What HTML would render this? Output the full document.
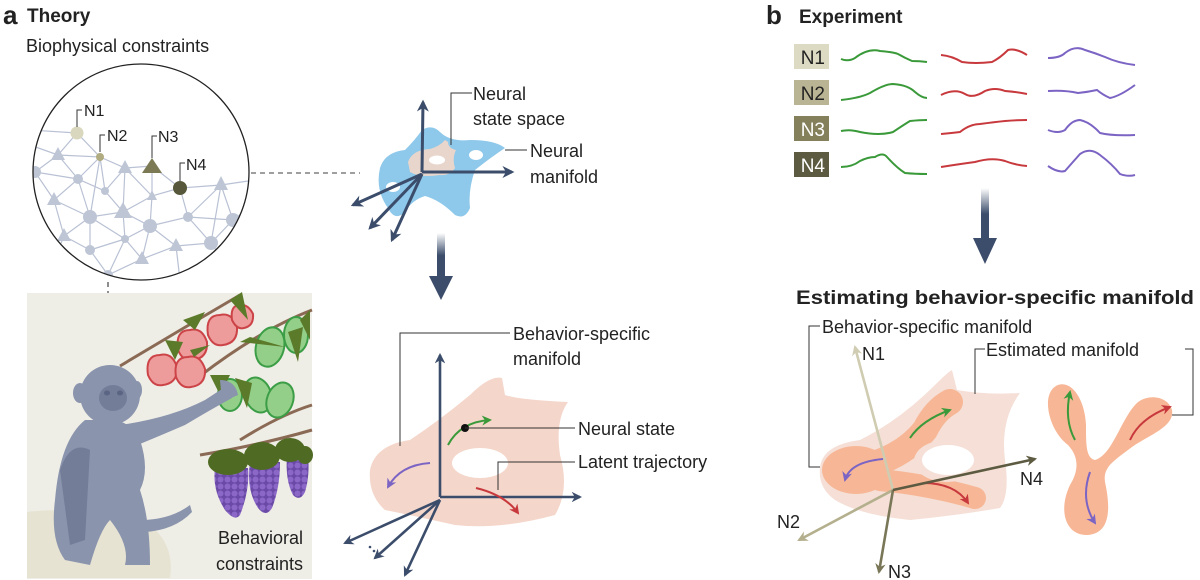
<!DOCTYPE html>
<html><head><meta charset="utf-8"><style>
html,body{margin:0;padding:0;background:#fff;}
svg{display:block;}
text{font-family:"Liberation Sans",sans-serif;fill:#222;}
</style></head><body>
<svg width="1200" height="580" viewBox="0 0 1200 580" xmlns="http://www.w3.org/2000/svg">
<defs>
<marker id="ab" viewBox="0 0 10 10" refX="8" refY="5" markerWidth="4" markerHeight="4" orient="auto"><path d="M0,0 L10,5 L0,10 L3,5Z" fill="#3b4d6b"/></marker>
<marker id="ag" viewBox="0 0 10 10" refX="8" refY="5" markerWidth="5" markerHeight="5" orient="auto"><path d="M0,0 L10,5 L0,10 L3,5Z" fill="#3a9a3a"/></marker>
<marker id="ar" viewBox="0 0 10 10" refX="8" refY="5" markerWidth="5" markerHeight="5" orient="auto"><path d="M0,0 L10,5 L0,10 L3,5Z" fill="#c8393d"/></marker>
<marker id="ap" viewBox="0 0 10 10" refX="8" refY="5" markerWidth="5" markerHeight="5" orient="auto"><path d="M0,0 L10,5 L0,10 L3,5Z" fill="#7b64c4"/></marker>
<marker id="a1" viewBox="0 0 10 10" refX="8" refY="5" markerWidth="4" markerHeight="4" orient="auto"><path d="M0,0 L10,5 L0,10 L3,5Z" fill="#cfccb2"/></marker>
<marker id="a2" viewBox="0 0 10 10" refX="8" refY="5" markerWidth="4" markerHeight="4" orient="auto"><path d="M0,0 L10,5 L0,10 L3,5Z" fill="#b4b08e"/></marker>
<marker id="a3" viewBox="0 0 10 10" refX="8" refY="5" markerWidth="4" markerHeight="4" orient="auto"><path d="M0,0 L10,5 L0,10 L3,5Z" fill="#7a7758"/></marker>
<marker id="a4" viewBox="0 0 10 10" refX="8" refY="5" markerWidth="4" markerHeight="4" orient="auto"><path d="M0,0 L10,5 L0,10 L3,5Z" fill="#5c5a40"/></marker>
<linearGradient id="gd" x1="0" y1="0" x2="0" y2="1"><stop offset="0" stop-color="#3b4d6b" stop-opacity="0"/><stop offset="0.5" stop-color="#3b4d6b"/></linearGradient>
<clipPath id="cc"><circle cx="141" cy="172" r="108"/></clipPath>
<pattern id="gp" width="7" height="7" patternUnits="userSpaceOnUse"><rect width="7" height="7" fill="#6a4aa6"/><circle cx="3.5" cy="3.5" r="3" fill="#8b68c8"/></pattern>
</defs>

<!-- Panel a titles -->
<text x="3" y="24" font-size="26" font-weight="bold" fill="#222">a</text>
<text x="27" y="22" font-size="19" font-weight="bold">Theory</text>
<text x="26" y="52" font-size="18" fill="#333">Biophysical constraints</text>

<!-- network circle -->
<g clip-path="url(#cc)" stroke="#b9c1d4" stroke-width="1.2" fill="none">
<path d="M30,130 L77,133 L100,157 L58,155 L30,145 M77,133 L58,155 L35,172 L78,179 L58,155 M100,157 L78,179 L105,191 L100,157 L125,168 L152,166 L180,188 L152,196 L125,168 L105,191 M100,157 L90,217 L78,179 L54,200 L35,172 M54,200 L90,217 L123,212 L105,191 M123,212 L152,196 L150,226 L123,212 L125,239 L90,217 L64,236 L54,200 M90,217 L90,250 L64,236 M125,239 L150,226 L176,246 L211,243 L188,217 L180,188 L221,185 L188,217 L150,226 M221,185 L233,220 L188,217 M221,185 L211,243 L233,220 L260,200 M221,185 L255,180 M90,250 L125,239 L142,259 L176,246 L180,280 M90,250 L108,275 L142,259 M150,226 L142,259 M211,243 L230,270 M64,236 L50,270 M125,239 L108,275 M152,196 L152,166 M125,168 L123,212 M180,188 L188,217"/>
</g>
<g clip-path="url(#cc)" fill="#bec6d6">
<path d="M58,147 L65,160 L51,160Z M125,160 L132,173 L118,173Z M54,192 L61,205 L47,205Z M123,202 L132,218 L114,218Z M152,190 L157,200 L147,200Z M221,176 L228,190 L214,190Z M64,228 L71,241 L57,241Z M176,238 L183,251 L169,251Z M142,251 L149,264 L135,264Z"/>
<circle cx="35" cy="172" r="6"/><circle cx="78" cy="179" r="5"/><circle cx="105" cy="191" r="4"/><circle cx="90" cy="217" r="7"/><circle cx="150" cy="226" r="7"/><circle cx="125" cy="239" r="4"/><circle cx="188" cy="217" r="5"/><circle cx="233" cy="220" r="7"/><circle cx="211" cy="243" r="7"/><circle cx="90" cy="250" r="5"/><circle cx="108" cy="275" r="5"/>
</g>
<circle cx="141" cy="172" r="108" fill="none" stroke="#222" stroke-width="1.3"/>
<circle cx="77" cy="133" r="6.5" fill="#d9d7bd"/>
<circle cx="100" cy="157" r="4" fill="#b0ab80"/>
<path d="M152,158 L162,173 L142,173Z" fill="#7c7a55"/>
<circle cx="180" cy="188" r="7" fill="#56573b"/>
<g stroke="#333" stroke-width="1" fill="none"><path d="M77,127 V110 H82 M100,152 V135 H105 M152,158 V136 H157 M180,181 V163 H185"/></g>
<text x="84" y="116" font-size="16">N1</text>
<text x="107" y="141" font-size="16">N2</text>
<text x="158" y="142" font-size="16">N3</text>
<text x="186" y="170" font-size="16">N4</text>
<line x1="251" y1="173" x2="360" y2="173" stroke="#666" stroke-width="1.2" stroke-dasharray="5,4"/>
<line x1="108" y1="282" x2="108" y2="377" stroke="#444" stroke-width="1.2" stroke-dasharray="5,4"/>

<!-- monkey panel -->
<rect x="27" y="293" width="285" height="286" fill="#efeee6"/>
<path d="M27,512 Q90,505 150,525 Q175,545 170,578 L27,578Z" fill="#e6e3d2"/>
<g stroke="#8b6a55" stroke-width="3" fill="none"><path d="M120,366 Q180,330 240,295"/><path d="M200,376 Q260,330 312,310"/><path d="M240,440 Q280,415 312,405"/><path d="M200,455 Q260,445 312,430"/></g>
<g fill="#ee9b9b" stroke="#cc4448" stroke-width="2">
<path d="M190,330 q-15,0 -12,20 q5,12 15,10 q15,-2 14,-18 q-5,-15 -17,-12z"/>
<path d="M220,315 q-15,0 -12,20 q5,12 15,10 q15,-2 14,-18 q-5,-15 -17,-12z"/>
<path d="M240,305 q-10,0 -8,15 q5,10 12,8 q10,-2 9,-14 q-5,-10 -13,-9z"/>
<path d="M160,355 q-15,0 -12,20 q5,12 15,10 q15,-2 14,-18 q-5,-15 -17,-12z"/>
<path d="M188,357 q-15,0 -12,20 q5,12 15,10 q15,-2 14,-18 q-5,-15 -17,-12z"/>
</g>
<g fill="#93cf88" stroke="#3b9d46" stroke-width="2">
<ellipse cx="270" cy="347" rx="14" ry="20" transform="rotate(15 270 347)"/>
<ellipse cx="296" cy="335" rx="12" ry="18"/>
<ellipse cx="258" cy="395" rx="13" ry="18" transform="rotate(-20 258 395)"/>
<ellipse cx="280" cy="400" rx="13" ry="18" transform="rotate(20 280 400)"/>
<ellipse cx="230" cy="395" rx="12" ry="16"/>
</g>
<g fill="#5b7a2a"><path d="M183,320 l22,-8 l-10,18z M230,300 l12,-8 l6,28z M165,340 l10,20 l8,-18z M190,350 l20,-5 l-16,12z M240,342 l45,5 l-35,-10z M288,332 l10,30 l5,-35z M300,320 l10,20 l0,-30z M210,375 l10,20 l10,-20z M235,378 l12,30 l5,-25z"/></g>
<g fill="url(#gp)">
<path d="M215,468 Q212,490 225,510 Q235,522 240,515 Q250,490 248,468Z"/>
<path d="M250,462 Q246,490 258,508 Q266,518 272,508 Q280,488 280,462Z"/>
<path d="M287,455 Q285,480 293,495 Q300,502 305,492 Q310,475 308,455Z"/>
</g>
<g fill="#4f6a23"><ellipse cx="228" cy="462" rx="20" ry="13"/><ellipse cx="262" cy="456" rx="18" ry="14"/><ellipse cx="290" cy="450" rx="15" ry="12"/><ellipse cx="305" cy="455" rx="8" ry="9"/></g>
<!-- monkey -->
<g fill="#8a94ad">
<ellipse cx="110" cy="395" rx="30" ry="30"/>
<path d="M85,420 Q60,440 55,500 Q50,540 65,560 L90,565 Q100,530 110,520 Q130,545 125,565 L150,565 Q150,520 140,490 Q150,470 140,440 Q130,420 110,420Z"/>
<path d="M120,425 Q170,418 205,400 L228,385 L232,398 Q210,410 185,425 Q150,440 130,448Z"/>
<path d="M220,380 Q235,380 238,395 L222,402Z"/>
<path d="M140,520 Q170,520 190,505 L192,512 Q175,530 145,532Z"/>
<ellipse cx="80" cy="393" rx="7" ry="10"/><ellipse cx="137" cy="390" rx="5" ry="9"/>
</g>
<g fill="#737d98"><ellipse cx="113" cy="398" rx="14" ry="13"/><path d="M60,470 Q70,440 90,450 L85,540 L70,545Z"/></g>
<g fill="#5a6483"><ellipse cx="107" cy="393" rx="3" ry="2.5"/><ellipse cx="120" cy="393" rx="3" ry="2.5"/></g>
<text x="303" y="544" font-size="18" text-anchor="end" fill="#333">Behavioral</text>
<text x="303" y="570" font-size="18" text-anchor="end" fill="#333">constraints</text>

<!-- neural state space -->
<path d="M380,168 Q385,152 405,150 Q415,140 422,130 Q432,124 440,132 Q450,142 470,140 Q495,140 505,148 Q490,158 475,170 Q468,190 470,208 Q465,220 455,215 Q440,200 425,196 Q412,200 405,212 Q395,222 388,208 Q375,190 380,168Z" fill="#8ec8ea"/>
<ellipse cx="393" cy="187" rx="7" ry="5" fill="#fff"/><ellipse cx="476" cy="155" rx="7" ry="5" fill="#fff"/>
<path d="M408,162 Q412,150 430,149 Q440,146 445,140 L448,142 Q448,148 456,150 Q452,158 455,168 Q450,176 440,175 Q420,178 410,172Z" fill="#e8d6cc"/>
<ellipse cx="437" cy="160" rx="8" ry="4.5" fill="#fff"/>
<g stroke="#3b4d6b" stroke-width="3" fill="none" marker-end="url(#ab)">
<line x1="422" y1="172" x2="423" y2="102"/><line x1="422" y1="172" x2="512" y2="172"/>
<line x1="422" y1="174" x2="353" y2="205"/><line x1="422" y1="174" x2="370" y2="228"/><line x1="422" y1="174" x2="392" y2="240"/>
</g>
<g stroke="#333" stroke-width="1" fill="none"><path d="M451,145 V93 H472 M505,150 H527"/></g>
<text x="473" y="100" font-size="18">Neural</text>
<text x="473" y="125" font-size="18">state space</text>
<text x="530" y="157" font-size="18">Neural</text>
<text x="530" y="183" font-size="18">manifold</text>
<rect x="437" y="233" width="8" height="45" fill="url(#gd)"/>
<path d="M429,276 L453,276 L441,300Z" fill="#3b4d6b"/>

<!-- behavior-specific manifold -->
<path d="M370,470 Q375,445 410,440 Q440,420 470,395 Q490,375 502,378 L505,395 Q520,400 568,402 Q555,420 560,455 Q570,490 555,515 Q500,530 455,525 Q410,515 385,510 Q368,495 370,470Z" fill="#f4d6ca"/>
<ellipse cx="480" cy="463" rx="28" ry="15" fill="#fff"/>
<g stroke="#3b4d6b" stroke-width="2.6" fill="none" marker-end="url(#ab)">
<line x1="440" y1="497" x2="440" y2="355"/><line x1="440" y1="497" x2="580" y2="497"/>
<line x1="440" y1="500" x2="345" y2="543"/><line x1="440" y1="500" x2="375" y2="558"/><line x1="440" y1="500" x2="405" y2="575"/>
</g>
<g fill="#3b4d6b"><circle cx="370" cy="547" r="1.3"/><circle cx="374" cy="551" r="1.3"/><circle cx="378" cy="555" r="1.3"/></g>
<path d="M448,445 Q460,422 490,420" stroke="#3a9a3a" stroke-width="2" fill="none" marker-end="url(#ag)"/>
<path d="M430,463 Q400,465 388,487" stroke="#7b64c4" stroke-width="2" fill="none" marker-end="url(#ap)"/>
<path d="M476,488 Q505,495 518,513" stroke="#c8393d" stroke-width="2" fill="none" marker-end="url(#ar)"/>
<circle cx="465" cy="428" r="4" fill="#111"/>
<g stroke="#333" stroke-width="1" fill="none"><path d="M400,446 V333 H510 M465,428 H575 M498,490 V462 H575"/></g>
<text x="513" y="340" font-size="18">Behavior-specific</text>
<text x="513" y="365" font-size="18">manifold</text>
<text x="578" y="435" font-size="18">Neural state</text>
<text x="578" y="468" font-size="18">Latent trajectory</text>

<!-- Panel b -->
<text x="766" y="24" font-size="26" font-weight="bold" fill="#222">b</text>
<text x="799" y="23" font-size="19" font-weight="bold">Experiment</text>
<rect x="794" y="44" width="35" height="25" fill="#dcdac3"/>
<rect x="794" y="80" width="35" height="25" fill="#b9b594"/>
<rect x="794" y="116" width="35" height="25" fill="#85805c"/>
<rect x="794" y="152" width="35" height="25" fill="#5c5a40"/>
<text x="825" y="64" font-size="19" text-anchor="end">N1</text>
<text x="825" y="100" font-size="19" text-anchor="end">N2</text>
<text x="825" y="136" font-size="19" text-anchor="end" style="fill:#fff">N3</text>
<text x="825" y="172" font-size="19" text-anchor="end" style="fill:#fff">N4</text>
<g fill="none" stroke-width="2">
<g stroke="#3a9a3a">
<path d="M841,59 Q848,62 855,58 Q868,48 880,51 Q893,52 898,54 Q905,58 912,61 Q920,61 927,62"/>
<path d="M841,100 Q860,98 870,93 Q885,84 893,84 Q908,85 915,92 Q922,98 927,98"/>
<path d="M841,131 Q850,129 860,132 Q880,136 893,132 Q905,124 910,121 Q920,120 927,120"/>
<path d="M841,167 Q852,167 860,161 Q868,157 875,157 Q883,152 887,157 Q897,168 905,173 Q915,174 927,174"/>
</g>
<g stroke="#c8393d">
<path d="M941,55 Q952,56 962,62 Q975,64 992,62 Q1000,58 1008,50 Q1016,48 1027,55"/>
<path d="M941,95 Q955,88 965,94 Q973,99 985,91 Q995,87 1005,91 Q1018,92 1027,94"/>
<path d="M941,134 Q952,133 960,132 Q970,124 980,124 Q995,122 1005,121 Q1018,120 1027,120"/>
<path d="M941,167 Q960,164 975,162 Q992,157 1005,161 Q1015,165 1027,166"/>
</g>
<g stroke="#7b64c4">
<path d="M1048,58 Q1060,58 1065,53 Q1075,45 1085,50 Q1095,53 1105,57 Q1118,63 1135,65"/>
<path d="M1048,91 Q1065,90 1078,93 Q1088,92 1097,90 Q1103,95 1110,98 Q1120,96 1135,85"/>
<path d="M1048,130 Q1058,134 1065,130 Q1072,120 1080,120 Q1090,122 1100,133 Q1112,136 1135,135"/>
<path d="M1048,166 Q1058,173 1065,171 Q1072,163 1080,154 Q1090,147 1100,155 Q1112,164 1120,174 Q1128,177 1135,175"/>
</g>
</g>
<rect x="981" y="188" width="8" height="52" fill="url(#gd)"/>
<path d="M973,238 L997,238 L985,264Z" fill="#3b4d6b"/>
<text x="796" y="304" font-size="19" font-weight="bold" textLength="398" lengthAdjust="spacingAndGlyphs">Estimating behavior-specific manifold</text>

<!-- b bottom -->
<path d="M820,468 Q822,445 860,440 Q900,420 935,385 Q948,372 952,370 L957,390 Q985,395 1020,393 Q1000,420 1005,460 Q1010,495 1000,508 Q960,515 910,520 Q860,515 835,500 Q818,488 820,468Z" fill="#f5dfd6"/>
<g fill="#f7b796">
<ellipse cx="856" cy="470" rx="34" ry="24"/>
</g>
<g stroke="#f7b796" fill="none" stroke-linecap="round">
<path d="M870,465 Q905,455 925,430 Q935,410 950,402" stroke-width="26"/>
<path d="M880,480 Q930,485 975,498" stroke-width="22"/>
</g>
<ellipse cx="947" cy="461" rx="33" ry="21" fill="#f5dfd6"/>
<ellipse cx="948" cy="460" rx="26" ry="15" fill="#fff"/>
<path d="M910,438 Q922,420 950,410" stroke="#3a9a3a" stroke-width="2" fill="none" marker-end="url(#ag)"/>
<path d="M883,459 Q850,462 845,480" stroke="#7b64c4" stroke-width="2" fill="none" marker-end="url(#ap)"/>
<path d="M923,483 Q955,483 968,503" stroke="#c8393d" stroke-width="2" fill="none" marker-end="url(#ar)"/>
<g stroke-width="2.6" fill="none">
<line x1="893" y1="490" x2="855" y2="347" stroke="#cfccb2" marker-end="url(#a1)"/>
<line x1="893" y1="490" x2="799" y2="540" stroke="#b4b08e" marker-end="url(#a2)"/>
<line x1="893" y1="490" x2="879" y2="572" stroke="#7a7758" marker-end="url(#a3)"/>
<line x1="893" y1="490" x2="1035" y2="459" stroke="#5c5a40" marker-end="url(#a4)"/>
</g>
<text x="862" y="360" font-size="18">N1</text>
<text x="1020" y="485" font-size="18">N4</text>
<text x="777" y="528" font-size="18">N2</text>
<text x="888" y="578" font-size="18">N3</text>
<path d="M1058,385 C1040,392 1048,430 1068,445 C1080,458 1078,472 1070,485 C1058,510 1065,536 1088,535 C1112,533 1110,505 1105,482 C1103,468 1112,462 1128,450 C1145,436 1175,428 1172,410 C1168,395 1145,393 1135,405 C1120,422 1112,455 1095,460 C1086,458 1086,445 1086,425 C1085,400 1072,380 1058,385Z" fill="#f7b796"/>
<path d="M1075,440 Q1064,420 1070,392" stroke="#3a9a3a" stroke-width="2" fill="none" marker-end="url(#ag)"/>
<path d="M1130,440 Q1140,418 1170,407" stroke="#c8393d" stroke-width="2" fill="none" marker-end="url(#ar)"/>
<path d="M1090,472 Q1080,500 1095,523" stroke="#7b64c4" stroke-width="2" fill="none" marker-end="url(#ap)"/>
<g stroke="#333" stroke-width="1" fill="none"><path d="M820,467 H809 V326 H820 M975,394 V349 H985 M1172,415 H1193 V349 H1185"/></g>
<text x="822" y="333" font-size="18">Behavior-specific manifold</text>
<text x="986" y="356" font-size="18">Estimated manifold</text>
</svg>
</body></html>
